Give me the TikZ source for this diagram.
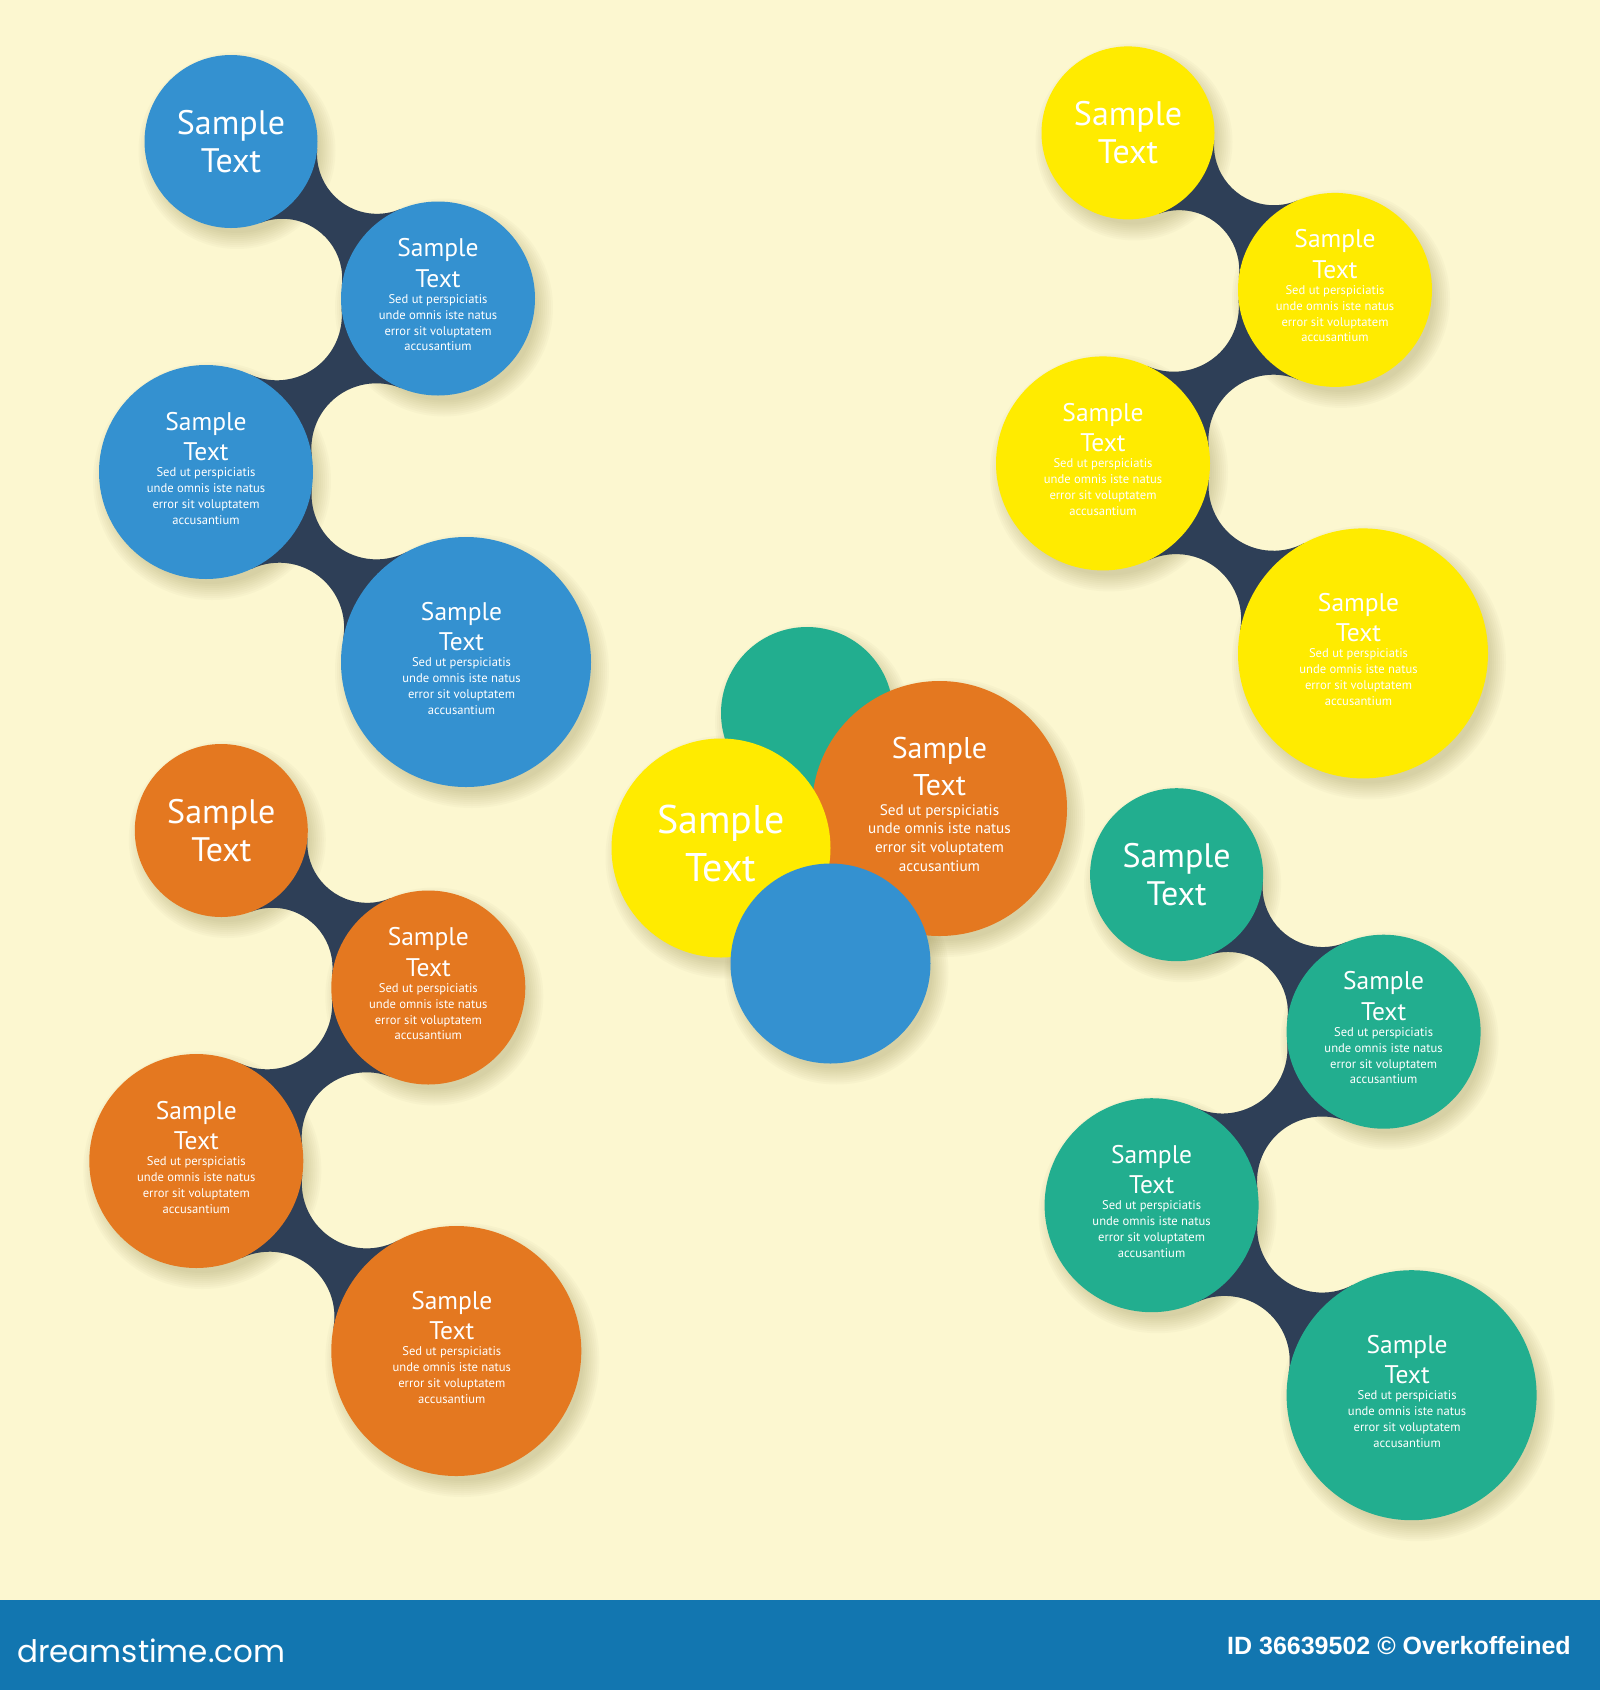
\documentclass[tikz,border=0pt]{standalone}
\usepackage{fontspec}
\setmainfont{PT Sans}
\newfontfamily\barfont{Poppins}
\newfontfamily\idfont{Liberation Sans}
\usetikzlibrary{calc}
\definecolor{bgc}{RGB}{252,247,208}
\definecolor{barc}{RGB}{18,118,176}
\definecolor{cblue}{RGB}{52,145,208}
\definecolor{cyel}{RGB}{255,235,0}
\definecolor{corg}{RGB}{228,120,32}
\definecolor{cteal}{RGB}{34,174,143}
\definecolor{neckc}{RGB}{46,63,87}
\definecolor{shc}{RGB}{120,110,50}
\pgfdeclarelayer{back}
\pgfsetlayers{back,main}
\tikzset{
  ball/.style={circle, inner sep=0pt, minimum size={2*#1pt}},
  txt/.style={text=white, inner sep=0pt, anchor=base},
  tbig/.style={txt, font=\fontsize{34}{34}\selectfont},
  tmed/.style={txt, font=\fontsize{25.5}{25.5}\selectfont},
  tsm/.style={txt, font=\fontsize{12.6}{12.6}\selectfont},
  thuge/.style={txt, font=\fontsize{40}{40}\selectfont},
  tcmed/.style={txt, font=\fontsize{30}{30}\selectfont},
  tcsm/.style={txt, font=\fontsize{15.2}{15.2}\selectfont},
  neckfill/.style={fill=neckc},
  neckshadow/.style={fill=shc, opacity=0.05},
}
% soft shadow
\newcommand\shadowc[3]{%
  \foreach \k in {0,...,8}{\fill[shc, opacity=0.032] (#1+6,#2+9) circle[radius={#3+12-2*\k}];}}
% metaball neck between two circle nodes: #1,#2 nodes, #3,#4 radii, #5 fillet radius, #6 style
\newcommand\neck[6]{%
  \path (#1.center); \pgfgetlastxy{\nxa}{\nya}
  \path (#2.center); \pgfgetlastxy{\nxb}{\nyb}
  \pgfmathsetmacro\nphi{atan2(\nyb-\nya,\nxb-\nxa)}
  \pgfmathsetmacro\nd{veclen(\nxb-\nxa,\nyb-\nya)/100}
  \pgfmathsetmacro\na{(#3+#5)/100}
  \pgfmathsetmacro\nb{(#4+#5)/100}
  \pgfmathsetmacro\nal{acos((\na*\na+\nd*\nd-\nb*\nb)/(2*\na*\nd))}
  \pgfmathsetmacro\nbe{acos((\nb*\nb+\nd*\nd-\na*\na)/(2*\nb*\nd))}
  \pgfmathsetmacro\angP{\nphi+\nal}
  \pgfmathsetmacro\angQ{\nphi+180+\nbe}
  \pgfmathsetmacro\sa{\nphi+\nal+180}
  \pgfmathsetmacro\ea{\nphi-\nbe+360}
  \pgfmathsetmacro\sb{\nphi+\nbe}
  \pgfmathsetmacro\eb{\nphi-\nal+180}
  \path[#6] (#1.center) -- ($(#1.center)+(\angP:#3pt)$)
     arc[start angle=\sa, end angle=\ea, radius=#5pt] -- (#2.center)
     -- ($(#2.center)+(\angQ:#4pt)$)
     arc[start angle=\sb, end angle=\eb, radius=#5pt] -- cycle;
}
\newcommand\necks[2]{% #1 prefix, #2 style
  \neck{#11}{#12}{86.5}{97}{60}{#2}
  \neck{#12}{#13}{97}{107}{65}{#2}
  \neck{#13}{#14}{107}{125}{65}{#2}}
\newcommand\ttwo[1]{%
  \node[tbig] (#1s) at ([yshift=7.5pt]#1.center) {Sample};
  \node[tbig] (#1t) at ([yshift=-31pt]#1.center) {Text};}
\newcommand\tsix[2][0]{%
  \node[tmed] (#2s) at ([xshift=#1pt,yshift=42pt]#2.center) {Sample};
  \node[tmed] (#2t) at ([xshift=#1pt,yshift=11.5pt]#2.center) {Text};
  \node[tsm] (#2a) at ([xshift=#1pt,yshift=-4.5pt]#2.center) {Sed ut perspiciatis};
  \node[tsm] (#2b) at ([xshift=#1pt,yshift=-20.5pt]#2.center) {unde omnis iste natus};
  \node[tsm] (#2c) at ([xshift=#1pt,yshift=-36.5pt]#2.center) {error sit voluptatem};
  \node[tsm] (#2d) at ([xshift=#1pt,yshift=-52pt]#2.center) {accusantium};}
\newcommand\mgroup[4]{%
  \begin{scope}[shift={(#3,#4)}]
    \node[ball=86.5, fill=#2] (#11) at (231,141.5) {};
    \node[ball=97, fill=#2] (#12) at (438,298.5) {};
    \node[ball=107, fill=#2] (#13) at (206,472) {};
    \node[ball=125, fill=#2] (#14) at (466,662) {};
    \begin{pgfonlayer}{back}
      \shadowc{231}{141.5}{86.5}
      \shadowc{438}{298.5}{97}
      \shadowc{206}{472}{107}
      \shadowc{466}{662}{125}
      \begin{scope}[xshift=4pt,yshift=-6pt]\necks{#1}{neckshadow}\end{scope}
      \begin{scope}[xshift=7pt,yshift=-10pt]\necks{#1}{neckshadow}\end{scope}
      \begin{scope}[xshift=10pt,yshift=-14pt]\necks{#1}{neckshadow}\end{scope}
      \necks{#1}{neckfill}
    \end{pgfonlayer}
    \ttwo{#11}
    \tsix{#12}
    \tsix{#13}
    \tsix[-4.5]{#14}
  \end{scope}}
\begin{document}
\begin{tikzpicture}[x=1pt,y=-1pt]
\useasboundingbox (0,0) rectangle (1600,1690);
\begin{pgfonlayer}{back}
  \fill[bgc] (0,0) rectangle (1600,1600);
  \fill[barc] (0,1600) rectangle (1600,1690);
\end{pgfonlayer}
\mgroup{b}{cblue}{0}{0}
\mgroup{y}{cyel}{897}{-8.6}
\mgroup{o}{corg}{-9.7}{689}
\mgroup{t}{cteal}{945.6}{733.2}
% central cluster
\begin{pgfonlayer}{back}
  \shadowc{807}{713}{86}
  \shadowc{939.5}{808.5}{127.5}
  \shadowc{721}{848}{109.5}
  \shadowc{830.5}{963.5}{100}
\end{pgfonlayer}
\node[ball=86, fill=cteal] (c1) at (807,713) {};
\node[ball=127.5, fill=corg] (c2) at (939.5,808.5) {};
\node[ball=109.5, fill=cyel] (c3) at (721,848) {};
\node[ball=100, fill=cblue] (c4) at (830.5,963.5) {};
\node[thuge] (c3s) at ([yshift=15pt]c3.center) {Sample};
\node[thuge] (c3t) at ([yshift=-33.7pt]c3.center) {Text};
\node[tcmed] (c2s) at ([yshift=50pt]c2.center) {Sample};
\node[tcmed] (c2t) at ([yshift=13.5pt]c2.center) {Text};
\node[tcsm] (c2a) at ([yshift=-6.5pt]c2.center) {Sed ut perspiciatis};
\node[tcsm] (c2b) at ([yshift=-25.3pt]c2.center) {unde omnis iste natus};
\node[tcsm] (c2c) at ([yshift=-43.8pt]c2.center) {error sit voluptatem};
\node[tcsm] (c2d) at ([yshift=-62.5pt]c2.center) {accusantium};
% bottom bar
\node[txt, anchor=base west, font=\barfont\fontsize{31}{31}\selectfont] (dt) at (17,1662) {dreamstime.com};
\node[txt, anchor=base east, font=\idfont\bfseries\fontsize{25}{25}\selectfont] (id) at (1571,1654) {ID 36639502 © Overkoffeined};
\end{tikzpicture}
\end{document}
